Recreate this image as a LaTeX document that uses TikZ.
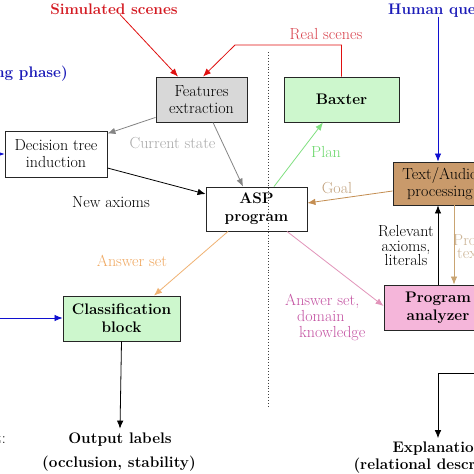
\documentclass[tikz,border=0pt]{standalone}
\usepackage{fontspec}
\usetikzlibrary{arrows.meta,calc}
\definecolor{simred}{HTML}{D41A22}
\definecolor{arrred}{HTML}{E01010}
\definecolor{realred}{HTML}{D8404A}
\definecolor{qblue}{HTML}{1A1AB8}
\definecolor{arrblue}{HTML}{1010D0}
\definecolor{featgray}{HTML}{D8D8D8}
\definecolor{arrgray}{HTML}{858585}
\definecolor{txtgray}{HTML}{A8A8A8}
\definecolor{boxgreen}{HTML}{CDF7CD}
\definecolor{plangreen}{HTML}{80E080}
\definecolor{plantext}{HTML}{6CD86C}
\definecolor{boxbrown}{HTML}{C99A6B}
\definecolor{goalarr}{HTML}{C48E52}
\definecolor{goaltext}{HTML}{C2A27E}
\definecolor{procarr}{HTML}{C9A472}
\definecolor{proctext}{HTML}{CCB496}
\definecolor{ansorange}{HTML}{F0B272}
\definecolor{anstext}{HTML}{F0A860}
\definecolor{pinkarr}{HTML}{E294BA}
\definecolor{pinktext}{HTML}{C452A2}
\definecolor{boxpink}{HTML}{F5B6DA}
\begin{document}
\begin{tikzpicture}[x=1pt,y=-1pt,
  reg/.style={font=\fontsize{16}{17}\selectfont},
  bld/.style={font=\fontsize{15.3}{18}\selectfont\bfseries},
  box/.style={draw=black!85, line width=0.9pt, inner sep=0pt, align=center},
  arr/.style={-{Latex[length=8pt,width=6.5pt]}, line width=0.8pt}]
\useasboundingbox (0,0) rectangle (474,474);
\clip (0,0) rectangle (474,474);
\fill[white] (0,0) rectangle (474,474);

% boxes
\node[box, fill=featgray, reg, minimum width=91pt, minimum height=45pt] (feat) at (201.5,99.5) {Features\\extraction};
\node[box, fill=boxgreen, bld, minimum width=115pt, minimum height=45pt] (baxter) at (341.5,99.5) {Baxter};
\node[box, fill=white, reg, minimum width=102pt, minimum height=46pt] (dti) at (56,154) {Decision tree\\induction};
\node[box, fill=white, bld, minimum width=101pt, minimum height=44pt] (asp) at (256.5,209) {ASP\\program};
\node[box, fill=boxbrown, reg, minimum width=94pt, minimum height=43pt] (txt) at (440,183.5) {Text/Audio\\processing};
\node[box, fill=boxgreen, bld, minimum width=117pt, minimum height=45pt] (cls) at (121.5,318.5) {Classification\\block};
\node[box, fill=boxpink, bld, minimum width=108pt, minimum height=45pt] (prog) at (438,307.5) {Program\\analyzer};

% free texts
\node[bld, text=simred, anchor=base] (sim) at (114,14.5) {Simulated scenes};
\node[bld, text=qblue, anchor=base] (hq) at (440,14) {Human query};
\node[bld, text=qblue, anchor=base east, inner sep=0pt] (phase) at (68,77) {(Learning phase)};
\node[bld, anchor=base, inner sep=3.5pt] (out) at (120,443) {Output labels};
\node[bld, anchor=base] (outd) at (119,467) {(occlusion, stability)};
\node[bld, anchor=base, inner sep=3pt] (expl) at (438,452) {Explanation};
\node[bld, anchor=base] (expld) at (440,469) {(relational description)};
\node[reg, anchor=base east, inner sep=0pt] (colon) at (6,443) {Output:};

% edge labels
\node[reg, text=realred, anchor=base] (lreal) at (326,39) {Real scenes};
\node[reg, text=txtgray, anchor=base] (lcur) at (172.5,148) {Current state};
\node[reg, anchor=base] (lnew) at (111,207) {New axioms};
\node[reg, text=plantext, anchor=base] (lplan) at (326,157) {Plan};
\node[reg, text=goaltext, anchor=base] (lgoal) at (337,193) {Goal};
\node[reg, text=anstext, anchor=base] (lans) at (132,266) {Answer set};
\node[font=\fontsize{16}{14.5}\selectfont, align=center, anchor=center] (lrel) at (406,246) {Relevant\\axioms,\\literals};
\node[font=\fontsize{16}{13.5}\selectfont, text=proctext, align=left, anchor=north west, inner sep=0pt] (lproc) at (453,234) {Processed\\\hspace*{4pt}text};
\node[font=\fontsize{16}{16}\selectfont, text=pinktext, align=left, anchor=north west, inner sep=0pt] (lpink) at (285,293.5) {Answer set,\\\hspace*{12pt}domain\\\hspace*{14pt}knowledge};

% helper coordinates
\coordinate (rs) at (235,45);
\coordinate (inl1) at (-5,154);
\coordinate (inl2) at (-5,318);
\coordinate (rexp) at (480,373);

% connectors
\draw[arr, arrred] ([xshift=6pt]sim.base) -- ([xshift=-23.5pt]feat.north);
\draw[arr, arrred] (baxter.north) -- (baxter.north |- rs) -- (rs) -- ([xshift=1.5pt]feat.north);
\draw[arr, arrblue] ([xshift=-2pt,yshift=-3pt]hq.base) -- ([xshift=-2pt]txt.north);
\draw[arr, arrblue] (inl1) -- (dti.west);
\draw[arr, arrblue] (inl2) -- ([yshift=0.5pt]cls.west);
\draw[arr, arrgray] ([yshift=5pt]feat.south west) -- ([yshift=-3pt]dti.north east);
\draw[arr, arrgray] ([xshift=11.5pt]feat.south) -- ([xshift=-13.5pt]asp.north);
\draw[arr, black] ([yshift=-14pt]dti.east) -- ([yshift=15pt]asp.west);
\draw[arr, plangreen] ([xshift=17.5pt]asp.north) -- ([xshift=-18.5pt]baxter.south);
\draw[arr, goalarr] ([yshift=-7.5pt]txt.west) -- ([yshift=6pt]asp.east);
\draw[arr, black] (prog.north) -- ([xshift=-2pt]txt.south);
\draw[arr, procarr] ([xshift=14pt]txt.south) -- ([xshift=16pt]prog.north);
\draw[arr, pinkarr] ([xshift=30.5pt]asp.south) -- ([yshift=1.5pt]prog.west);
\draw[arr, ansorange] ([xshift=-28.5pt]asp.south) -- ([xshift=32.5pt]cls.north);
\draw[arr, black] (cls.south) -- (out.north);
\draw[arr, black] (rexp) -- (expl.north |- rexp) -- (expl.north);

% dotted separator
\draw[dotted, line width=0.9pt, black!75] (268,52) -- (268,408);
\end{tikzpicture}
\end{document}
